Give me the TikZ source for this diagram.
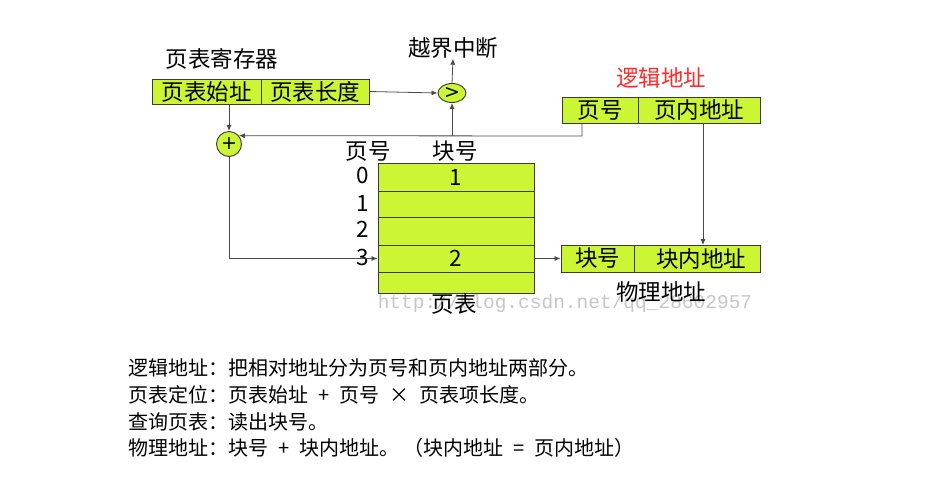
\documentclass[tikz,border=0pt]{standalone}
\usepackage{fontspec}
\newfontfamily\cjk{Noto Sans CJK SC}
\newfontfamily\wmfont{Liberation Mono}
\newfontfamily\symf{DejaVu Sans}
\usetikzlibrary{shapes.geometric,arrows.meta}
\definecolor{lg}{HTML}{CCF533}
\definecolor{boxline}{HTML}{3A3A3A}
\definecolor{lineg}{HTML}{4A4A4A}
\definecolor{lred}{HTML}{FF2A2A}
\newcommand{\opsp}[1]{\hspace{0.5em}#1\hspace{0.5em}}
\begin{document}
\begin{tikzpicture}[x=1pt,y=-1pt,
  cell/.style={draw=boxline, fill=lg, line width=0.9pt, inner sep=0pt, font=\cjk\fontsize{22.5}{24}\selectfont},
  lbl/.style={inner sep=0pt, font=\cjk\fontsize{22.5}{24}\selectfont},
  btxt/.style={inner sep=0pt, anchor=west, font=\cjk\fontsize{20}{22}\selectfont},
  opnode/.style={draw=boxline, fill=lg, line width=0.9pt, inner sep=0pt, font=\symf\fontsize{19}{19}\selectfont},
  conn/.style={draw=lineg, line width=0.8pt, -{Latex[length=6pt,width=5pt]}}]
\useasboundingbox (0,0) rectangle (934,485);
\fill[white] (0,0) rectangle (934,485);
% watermark
\node[inner sep=0pt, text=black!22, font=\wmfont\fontsize{19.5}{21}\selectfont] (wm) at (565,303) {http://blog.csdn.net/qq\_28602957};
% page table register
\node[lbl] (regt) at (222,59) {页表寄存器};
\node[cell, minimum width=109pt, minimum height=25pt] (rs) at (206.5,91.5) {页表始址};
\node[cell, minimum width=108pt, minimum height=25pt] (rl) at (315,91.5) {页表长度};
% comparator
\node[opnode, ellipse, minimum width=28pt, minimum height=19pt] (cmp) at (452,93) {>};
\node[lbl] (yj) at (453,48) {越界中断};
% adder
\node[opnode, circle, minimum size=25pt] (plus) at (229,144) {+};
% logical address
\node[lbl, text=lred] (lat) at (661,78) {逻辑地址};
\node[cell, minimum width=76pt, minimum height=26pt] (lp) at (600,110) {页号};
\node[cell, minimum width=122pt, minimum height=26pt] (lo) at (699,110) {页内地址};
% physical address
\node[cell, minimum width=73pt, minimum height=27pt] (pb) at (597.5,258.5) {块号};
\node[cell, minimum width=126pt, minimum height=27pt] (po) at (697,258.5) {\hspace*{8pt}块内地址};
\node[lbl] (pat) at (661,292) {物理地址};
% page table
\node[cell, minimum width=156pt, minimum height=28pt] (r0) at (456,177) {1};
\node[cell, minimum width=156pt, minimum height=26pt] (r1) at (456,204) {};
\node[cell, minimum width=156pt, minimum height=28pt] (r2) at (456,231) {};
\node[cell, minimum width=156pt, minimum height=27pt] (r3) at (456,258.5) {2};
\node[cell, minimum width=156pt, minimum height=21pt] (r4) at (456,282.5) {};
\node[lbl] (hp) at (368,151) {页号};
\node[lbl] (hb) at (455,151) {块号};
\node[lbl] (n0) at (363,175) {0};
\node[lbl] (n1) at (363,203) {1};
\node[lbl] (n2) at (363,229) {2};
\node[lbl] (n3) at (363,257) {3};
\node[lbl] (ptt) at (454,304) {页表};
% connectors
\coordinate (j1) at (582,136);
\coordinate (j2) at (703,245);
\draw[conn] (rl.east) -- (cmp.west);
\draw[conn] (cmp.north) -- (yj.south);
\draw[conn] (rs.south -| plus) -- (plus.north);
\draw[conn] (lp.south -| j1) -- (j1) -- (plus.40);
\draw[conn] (j1 -| cmp.south) -- (cmp.south);
\draw[conn] (lo.south -| j2) -- (j2);
\draw[conn] (plus.south) |- (r3.west);
\draw[conn] (r3.east) -- (pb.west);
% bottom text
\node[btxt] (t1) at (128,368) {逻辑地址：把相对地址分为页号和页内地址两部分。};
\node[btxt] (t2) at (128,395) {页表定位：页表始址\opsp{+}页号\opsp{×}页表项长度。};
\node[btxt] (t3) at (128,422) {查询页表：读出块号。};
\node[btxt] (t4) at (128,448) {物理地址：块号\opsp{+}块内地址。 （块内地址\opsp{=}页内地址）};
\end{tikzpicture}
\end{document}
